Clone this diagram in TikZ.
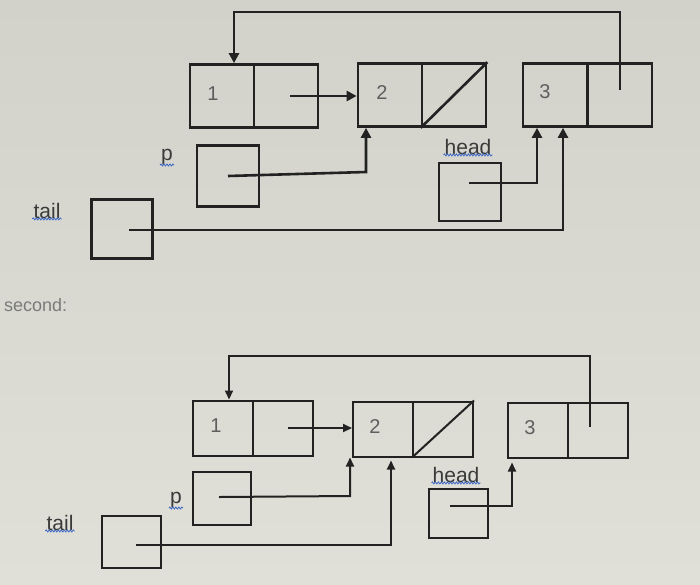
\documentclass[tikz,border=0pt]{standalone}
\usepackage{fontspec}
\setmainfont{Liberation Sans}
\usetikzlibrary{arrows.meta,decorations.pathmorphing,calc}
\definecolor{ink}{HTML}{222222}
\definecolor{digitc}{HTML}{5E5E5E}
\definecolor{labc}{HTML}{3A3A3A}
\definecolor{secc}{HTML}{7A7A7A}
\definecolor{bgtop}{RGB}{210,210,203}
\definecolor{bgbot}{RGB}{224,224,217}
\definecolor{spell}{HTML}{3A66C4}
\begin{document}
\begin{tikzpicture}[x=1pt,y=-1pt,
  cellA/.style={draw=ink,line width=2.7pt,minimum width=64pt,minimum height=63pt,inner sep=0pt},
  cellB/.style={draw=ink,line width=2pt,minimum width=60pt,minimum height=55pt,inner sep=0pt},
  ptrA/.style={draw=ink,line width=2.6pt,line cap=butt,line join=miter},
  ptrB/.style={draw=ink,line width=2pt,line cap=butt,line join=miter},
  arrA/.style={ptrA,-{Triangle[length=10pt,width=10pt]}},
  arrB/.style={ptrB,-{Triangle[length=9pt,width=8pt]}},
  digit/.style={font=\fontsize{20}{24}\selectfont,text=digitc,inner sep=0pt},
  lab/.style={font=\fontsize{21}{25}\selectfont,text=labc,inner sep=1pt},
  wavy/.style={draw=spell,line width=0.8pt,decorate,decoration={snake,amplitude=1pt,segment length=3pt}}]
\shade[top color=bgtop,bottom color=bgbot] (0,0) rectangle (700,584);
\useasboundingbox (0,0) rectangle (700,584);

% ---------------- first diagram ----------------
\node[cellA] (a1d) at (222,96) {};
\node[cellA] (a1p) at (286,96) {};
\node[cellA] (a2d) at (390,95) {};
\node[cellA] (a2p) at (454,95) {};
\node[cellA] (a3d) at (555,95) {};
\node[cellA] (a3p) at (620,95) {};
\node[digit] (ta1) at ($(a1d.center)+(-9,-2)$) {1};
\node[digit] (ta2) at ($(a2d.center)+(-8,-2)$) {2};
\node[digit] (ta3) at ($(a3d.center)+(-10,-3)$) {3};
\draw[ptrA] (a2p.south west) -- (a2p.north east);

\coordinate (a3s) at (620,90);
\coordinate (aLR) at (620,12);
\coordinate (aLL) at (234,12);
\draw[arrA] (a3s) -- (aLR) -- (aLL) -- (aLL |- a1d.north);
\coordinate (a1s) at (290,96);
\draw[arrA] (a1s) -- (a1s -| a2d.west);

\node[cellA,minimum width=62pt,minimum height=61pt] (ap) at (228,176) {};
\node[lab] (apl) at (167,157) {p};
\draw[wavy] ($(apl.south west)+(0,-1)$) -- ($(apl.south east)+(0,-1)$);
\coordinate (apb) at (366,172);
\draw[arrA] (ap.center) -- (apb) -- (apb |- a2d.south);

\node[cellA,minimum width=62pt,minimum height=58pt] (ah) at (470,192) {};
\node[lab] (ahl) at (468,147) {head};
\draw[wavy] ($(ahl.south west)+(0,-1)$) -- ($(ahl.south east)+(0,-1)$);
\coordinate (ahs) at (469,183);
\coordinate (ahb) at (537,183);
\draw[arrA] (ahs) -- (ahb) -- (ahb |- a3d.south);

\node[cellA,minimum width=61pt,minimum height=59pt] (at) at (122,229) {};
\node[lab] (atl) at (47,211) {tail};
\draw[wavy] ($(atl.south west)+(0,-1)$) -- ($(atl.south east)+(0,-1)$);
\coordinate (ats) at (129,230);
\coordinate (atb) at (563,230);
\draw[arrA] (ats) -- (atb) -- (atb |- a3d.south);

% ---------------- second diagram ----------------
\node[font=\fontsize{18}{22}\selectfont,text=secc,anchor=west,inner sep=0pt] (sec) at (4,305) {second:};

\node[cellB] (b1d) at (223,428) {};
\node[cellB] (b1p) at (283,428) {};
\node[cellB] (b2d) at (383,429) {};
\node[cellB] (b2p) at (443,429) {};
\node[cellB] (b3d) at (538,430) {};
\node[cellB] (b3p) at (598,430) {};
\node[digit] (tb1) at ($(b1d.center)+(-7,-2)$) {1};
\node[digit] (tb2) at ($(b2d.center)+(-8,-2)$) {2};
\node[digit] (tb3) at ($(b3d.center)+(-8,-2)$) {3};
\draw[ptrB] (b2p.south west) -- (b2p.north east);

\coordinate (b3s) at (590,427);
\coordinate (bLR) at (590,356);
\coordinate (bLL) at (229,356);
\draw[arrB] (b3s) -- (bLR) -- (bLL) -- (bLL |- b1d.north);
\coordinate (b1s) at (288,428);
\draw[arrB] (b1s) -- (b1s -| b2d.west);

\node[cellB,minimum width=58pt,minimum height=53pt] (bp) at (222,498) {};
\node[lab] (bpl) at (176,500) {p};
\draw[wavy] ($(bpl.south west)+(0,-1)$) -- ($(bpl.south east)+(0,-1)$);
\coordinate (bps) at (219,497);
\coordinate (bpb) at (350,496);
\draw[arrB] (bps) -- (bpb) -- (bpb |- b2d.south);

\node[cellB,minimum width=59pt,minimum height=49pt] (bh) at (458,513) {};
\node[lab] (bhl) at (456,475) {head};
\draw[wavy] ($(bhl.south west)+(0,-1)$) -- ($(bhl.south east)+(0,-1)$);
\coordinate (bhs) at (450,506);
\coordinate (bhb) at (512,506);
\draw[arrB] (bhs) -- (bhb) -- ($(bhb |- b3d.south)+(0,4)$);

\node[cellB,minimum width=59pt,minimum height=52pt] (bt) at (131,542) {};
\node[lab] (btl) at (60,523) {tail};
\draw[wavy] ($(btl.south west)+(0,-1)$) -- ($(btl.south east)+(0,-1)$);
\coordinate (bts) at (136,545);
\coordinate (btb) at (391,545);
\draw[arrB] (bts) -- (btb) -- ($(btb |- b2d.south)+(0,3)$);
\end{tikzpicture}
\end{document}
